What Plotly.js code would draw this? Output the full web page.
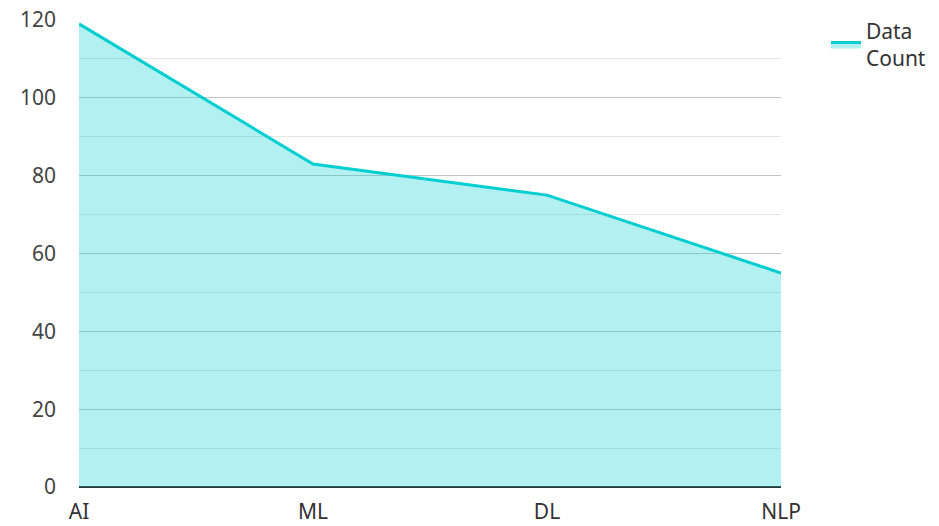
<!DOCTYPE html>
<html>
<head>
<meta charset="utf-8">
<script src="https://cdn.plot.ly/plotly-3.0.1.min.js"></script>
<style>html,body{margin:0;padding:0;background:#fff;}#chart{width:939px;height:526px;}</style>
</head>
<body>
<div id="chart"></div>
<script>
const categories = ["AI", "ML", "DL", "NLP"];
const dataCount = [119, 83, 75, 55];
const seriesName = "Data<br>Count";

const trace = {
  x: categories,
  y: dataCount,
  type: "scatter",
  mode: "lines",
  name: seriesName,
  fill: "tozeroy",
  fillcolor: "rgba(0,206,209,0.3)",
  line: {color: "#00CED1", width: 3}
};

const layout = {
  width: 939,
  height: 526,
  margin: {l: 79, r: 158, t: 20, b: 39, autoexpand: false},
  paper_bgcolor: "#fff",
  plot_bgcolor: "#fff",
  font: {family: "Noto Sans, sans-serif", size: 21, color: "#444"},
  showlegend: true,
  legend: {x: 1.064, y: 1.02, xanchor: "left", yanchor: "top", font: {size: 21, color: "#333"}},
  xaxis: {
    type: "category",
    range: [0, 3],
    showgrid: false,
    zeroline: false,
    showline: false,
    ticks: "",
    automargin: false,
    ticklabelstandoff: 10,
    tickfont: {size: 21, color: "#333"}
  },
  yaxis: {
    range: [0, 120],
    dtick: 20,
    showgrid: true,
    gridcolor: "#c4c4c4",
    gridwidth: 1,
    zeroline: true,
    zerolinecolor: "#333",
    zerolinewidth: 2,
    ticks: "",
    ticklen: 0,
    automargin: false,
    ticklabelstandoff: 22,
    tickfont: {size: 21, color: "#444"},
    minor: {dtick: 10, showgrid: true, gridcolor: "#e6e6e6", gridwidth: 1}
  }
};

Plotly.newPlot("chart", [trace], layout, {displayModeBar: false, staticPlot: true});
</script>
</body>
</html>
